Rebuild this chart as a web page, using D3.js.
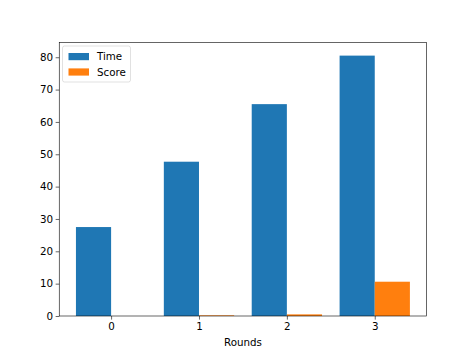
<!DOCTYPE html>
<html>
<head>
<meta charset="utf-8">
<script src="https://cdn.jsdelivr.net/npm/d3@7"></script>
<style>
  html, body { margin: 0; padding: 0; background: #fff; }
  svg { display: block; }
  text { font-family: "DejaVu Sans", sans-serif; fill: #000; }
</style>
</head>
<body>
<svg id="chart" width="474" height="355"></svg>
<script>
const rounds = [0, 1, 2, 3];
const timeValues = [27.5, 47.7, 65.5, 80.5];
const scoreValues = [0, 0.2, 0.5, 10.6];
const yTicks = [0, 10, 20, 30, 40, 50, 60, 70, 80];
const seriesNames = ["Time", "Score"];
const colors = ["#1f77b4", "#ff7f0e"];

const W = 474, H = 355;
const m = { left: 59.25, right: 426.6, top: 42.6, bottom: 316 };
const svg = d3.select("#chart");

const barW = 0.4;
const xMinData = d3.min(rounds) - barW, xMaxData = d3.max(rounds) + barW;
const pad = (xMaxData - xMinData) * 0.05;
const x = d3.scaleLinear().domain([xMinData - pad, xMaxData + pad]).range([m.left, m.right]);
const yMax = d3.max(timeValues.concat(scoreValues)) * 1.05;
const y = d3.scaleLinear().domain([0, yMax]).range([m.bottom, m.top]);

// bars
const series = [timeValues, scoreValues];
series.forEach((vals, si) => {
  svg.append("g").selectAll("rect").data(rounds).join("rect")
    .attr("x", (d) => x(d + (si === 0 ? -barW : 0)))
    .attr("width", (d) => x(d + barW) - x(d))
    .attr("y", (d, i) => y(vals[i]))
    .attr("height", (d, i) => y(0) - y(vals[i]))
    .attr("fill", colors[si]);
});

// axes
const fs = 10.3;
const xAxis = d3.axisBottom(x).tickValues(rounds).tickFormat(d3.format("d")).tickSize(3.6).tickPadding(2.6);
const gx = svg.append("g").attr("transform", `translate(0,${m.bottom})`).call(xAxis);
const yAxis = d3.axisLeft(y).tickValues(yTicks).tickFormat(d3.format("d")).tickSize(3.6).tickPadding(2.6);
const gy = svg.append("g").attr("transform", `translate(${m.left},0)`).call(yAxis);
[gx, gy].forEach(g => {
  g.select(".domain").remove();
  g.selectAll("line").attr("stroke", "#000").attr("stroke-width", 0.6);
  g.selectAll("text").attr("font-size", fs).attr("font-family", "DejaVu Sans, sans-serif").attr("fill", "#000");
});

// frame
svg.append("rect")
  .attr("x", m.left).attr("y", m.top)
  .attr("width", m.right - m.left).attr("height", m.bottom - m.top)
  .attr("fill", "none").attr("stroke", "#000").attr("stroke-width", 0.6);

// x label
svg.append("text").attr("x", (m.left + m.right) / 2).attr("y", 345.5)
  .attr("text-anchor", "middle").attr("font-size", fs).text("Rounds");

// legend
const lg = svg.append("g");
lg.append("rect").attr("x", 62.5).attr("y", 46).attr("width", 68).attr("height", 36)
  .attr("rx", 2).attr("fill", "#fff").attr("fill-opacity", 0.8)
  .attr("stroke", "#ccc").attr("stroke-width", 0.6);
seriesNames.forEach((name, i) => {
  const yy = 53 + i * 15.4;
  lg.append("rect").attr("x", 68.5).attr("y", yy).attr("width", 20.5).attr("height", 7.2).attr("fill", colors[i]);
  lg.append("text").attr("x", 97).attr("y", yy + 7.2).attr("font-size", fs).text(name);
});
</script>
</body>
</html>
